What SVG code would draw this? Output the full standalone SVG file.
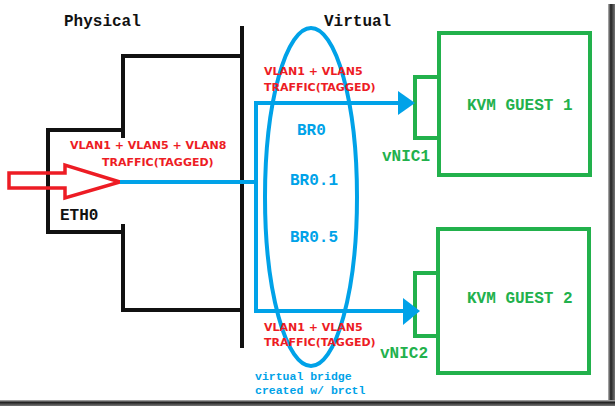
<svg xmlns="http://www.w3.org/2000/svg" width="615" height="406" viewBox="0 0 615 406">
<defs>
<style>
.mono{font-family:"Liberation Mono","Courier New",monospace;font-weight:bold;font-size:16px}
.blk{fill:#111}
.blu{fill:#00A2E8}
.grn{fill:#22B14C}
.red{font-family:"DejaVu Sans",Verdana,sans-serif;font-weight:bold;font-size:11px;fill:#ED1C24}
.small{font-size:11.5px}
.bl{fill:none;stroke:#111;stroke-width:4}
.bu{fill:none;stroke:#00A2E8;stroke-width:4}
.gr{fill:none;stroke:#22B14C;stroke-width:4}
</style>
<linearGradient id="shR" x1="0" x2="1" y1="0" y2="0">
<stop offset="0" stop-color="#bbb"/><stop offset="0.4" stop-color="#222"/><stop offset="1" stop-color="#777"/>
</linearGradient>
<linearGradient id="shB" x1="0" x2="0" y1="0" y2="1">
<stop offset="0" stop-color="#bbb"/><stop offset="0.4" stop-color="#222"/><stop offset="1" stop-color="#777"/>
</linearGradient>
</defs>
<rect width="615" height="406" fill="#fff"/>
<rect x="608" y="4" width="7" height="402" fill="url(#shR)"/>
<rect x="0" y="400" width="615" height="6" fill="url(#shB)"/>

<g id="labels">
<text class="mono blk" x="64" y="26">Physical</text>
<text class="mono blk" x="324" y="26">Virtual</text>
</g>

<g id="physical">
<line class="bl" x1="242" y1="26" x2="242" y2="348"/>
<polyline class="bl" points="242,56 123,56 123,138"/>
<polyline class="bl" points="123,130 48,130 48,232 123,232"/>
<polyline class="bl" points="123,224 123,310 242,310"/>
<text class="mono blk" x="60" y="220">ETH0</text>
</g>

<g id="bridge">
<ellipse class="bu" cx="311" cy="197" rx="46" ry="169"/>
<text class="mono blu" x="297" y="135">BR0</text>
<text class="mono blu" x="290" y="185">BR0.1</text>
<text class="mono blu" x="290" y="242">BR0.5</text>
<text class="mono blu small" x="255" y="380">virtual bridge</text>
<text class="mono blu small" x="255" y="394">created w/ brctl</text>
</g>

<g id="guest1">
<rect class="gr" x="439" y="33" width="151" height="142"/>
<rect class="gr" x="415" y="77" width="24" height="61"/>
<text class="mono grn" x="467" y="110">KVM GUEST 1</text>
<text class="mono grn" x="382" y="161">vNIC1</text>
</g>

<g id="guest2">
<rect class="gr" x="438" y="229" width="151" height="144"/>
<rect class="gr" x="415" y="273" width="23" height="63"/>
<text class="mono grn" x="467" y="303">KVM GUEST 2</text>
<text class="mono grn" x="380" y="358">vNIC2</text>
</g>

<g id="connectors">
<polygon points="9,173 65,173 65,165 120,182 65,198 65,188 9,188" fill="none" stroke="#ED1C24" stroke-width="3.5" stroke-linejoin="miter"/>
<line class="bu" x1="120" y1="182" x2="258" y2="182"/>
<polyline class="bu" points="400,103 256,103 256,311 404,311"/>
<polygon points="398,91 415,103 398,115" fill="#00A2E8"/>
<polygon points="403,298 420,311 403,325" fill="#00A2E8"/>
<text class="red" x="70" y="149">VLAN1 + VLAN5 + VLAN8</text>
<text class="red" x="102" y="166">TRAFFIC(TAGGED)</text>
<text class="red" x="264" y="75">VLAN1 + VLAN5</text>
<text class="red" x="264" y="91">TRAFFIC(TAGGED)</text>
<text class="red" x="264" y="331">VLAN1 + VLAN5</text>
<text class="red" x="264" y="346">TRAFFIC(TAGGED)</text>
</g>
</svg>
